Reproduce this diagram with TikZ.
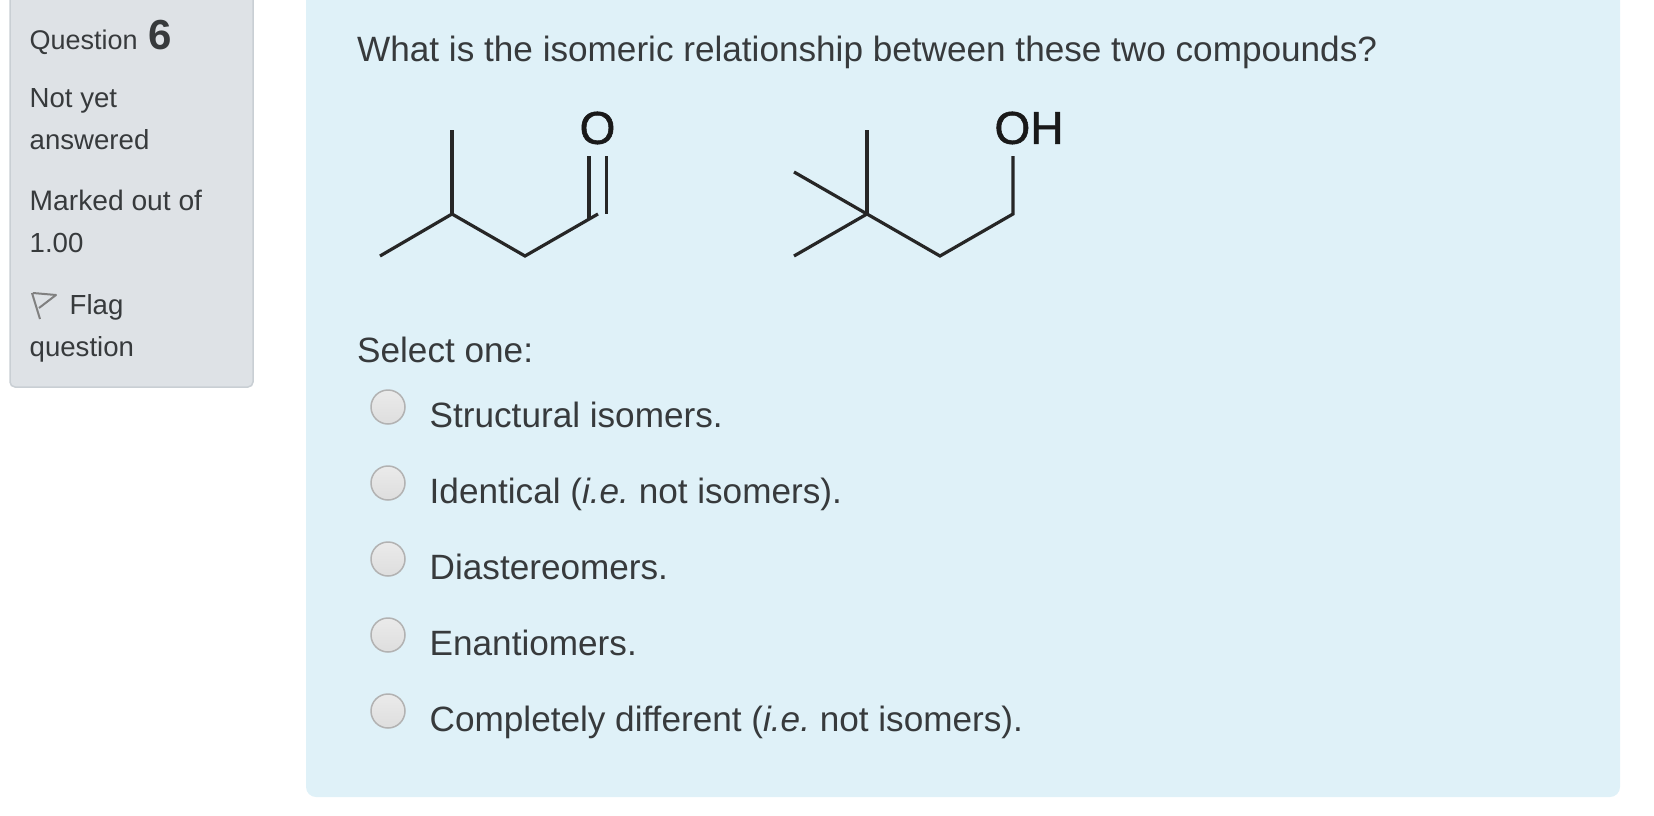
\documentclass[tikz,border=0pt]{standalone}
\usepackage{xcolor}
\usepackage{fontspec}
\setmainfont{Liberation Sans}
\newfontfamily\atomfont[FakeBold=1.2]{Liberation Sans}
\frenchspacing
\definecolor{panelblue}{HTML}{DFF1F8}
\definecolor{sidegray}{HTML}{DEE2E6}
\definecolor{sideedge}{HTML}{C9CFD4}
\definecolor{inkgray}{HTML}{373A3C}
\tikzset{
    sidetext/.style={anchor=base west, inner sep=0pt, text=inkgray, font=\fontsize{27.6}{32}\selectfont},
    maintext/.style={anchor=base west, inner sep=0pt, text=inkgray, font=\fontsize{35.15}{40}\selectfont},
    radiobtn/.style={draw=black!30, line width=1.5pt, top color=black!8, bottom color=black!13, circle, minimum size=34pt, inner sep=0pt},
    bond/.style={line width=3.2pt, black!85},
    atomtext/.style={inner sep=0pt, text=black!90, font=\fontsize{46}{50}\atomfont\selectfont}
}

\begin{document}
\begin{tikzpicture}[x=1pt, y=-1pt]
    \useasboundingbox (0,0) rectangle (1654,816);
    \fill[sidegray, draw=sideedge, line width=1.5pt, rounded corners=5pt] (10,-10) rectangle (253,387);
    \fill[panelblue, rounded corners=10pt] (306,-10) rectangle (1620,797);

    % side block
    \node[sidetext, font=\fontsize{27}{32}\selectfont] (question) at (29.5,49) {Question};
    \node[sidetext, anchor=base west, font=\fontsize{42}{44}\selectfont\bfseries] (number) at (148,49) {6};
    \node[sidetext] (notyet) at (29.5,107) {Not yet};
    \node[sidetext] (answered) at (29.5,149) {answered};
    \node[sidetext, font=\fontsize{28.2}{32}\selectfont] (marked) at (29.5,210) {Marked out of};
    \node[sidetext] (mark) at (29.5,252) {1.00};
    \node[sidetext] (flag) at (69.5,314) {Flag};
    \node[sidetext] (flagq) at (29.5,356) {question};
    \draw[black!50, line width=2pt, line join=round] (32,293) -- (40,319) (33,293) -- (56,295) -- (39,308);

    % question
    \node[maintext] (title) at (357,62) {What is the isomeric relationship between these two compounds?};
    \node[maintext] (select) at (357,362) {Select one:};

    % first compound
    \coordinate (atop) at (452,130);
    \coordinate (acentre) at (452,214);
    \coordinate (aleft) at (380,256);
    \coordinate (abottom) at (525,256);
    \coordinate (aright) at (598,214);
    \coordinate (dbla) at (589,156);
    \coordinate (dblb) at (589,219);
    \coordinate (dblc) at (606.5,156);
    \coordinate (dbld) at (606.5,214);
    \node[atomtext] (oxygen) at (597.5,128) {O};
    \draw[bond] (atop) -- (acentre);
    \draw[bond] (aleft) -- (acentre) -- (abottom) -- (aright);
    \draw[bond] (dbla) -- (dblb);
    \draw[bond] (dblc) -- (dbld);

    % second compound
    \coordinate (btop) at (867,130);
    \coordinate (bcentre) at (867,214);
    \coordinate (bupper) at (794,172);
    \coordinate (blower) at (794,256);
    \coordinate (bbottom) at (940,256);
    \coordinate (bright) at (1013,214);
    \coordinate (bend) at (1013,156);
    \node[atomtext] (hydroxyl) at (1029,128) {OH};
    \draw[bond] (btop) -- (bcentre);
    \draw[bond] (bupper) -- (bcentre);
    \draw[bond] (blower) -- (bcentre) -- (bbottom) -- (bright) -- (bend);

    % answers
    \node[radiobtn] (radioa) at (388,407) {};
    \node[radiobtn] (radiob) at (388,483) {};
    \node[radiobtn] (radioc) at (388,559) {};
    \node[radiobtn] (radiod) at (388,635) {};
    \node[radiobtn] (radioe) at (388,711) {};
    \node[maintext] (answera) at (429.5,427) {Structural isomers.};
    \node[maintext] (answerb) at (429.5,503) {Identical (\textit{i.e.} not isomers).};
    \node[maintext] (answerc) at (429.5,579) {Diastereomers.};
    \node[maintext] (answerd) at (429.5,655) {Enantiomers.};
    \node[maintext] (answere) at (429.5,731) {Completely different (\textit{i.e.} not isomers).};
\end{tikzpicture}
\end{document}
